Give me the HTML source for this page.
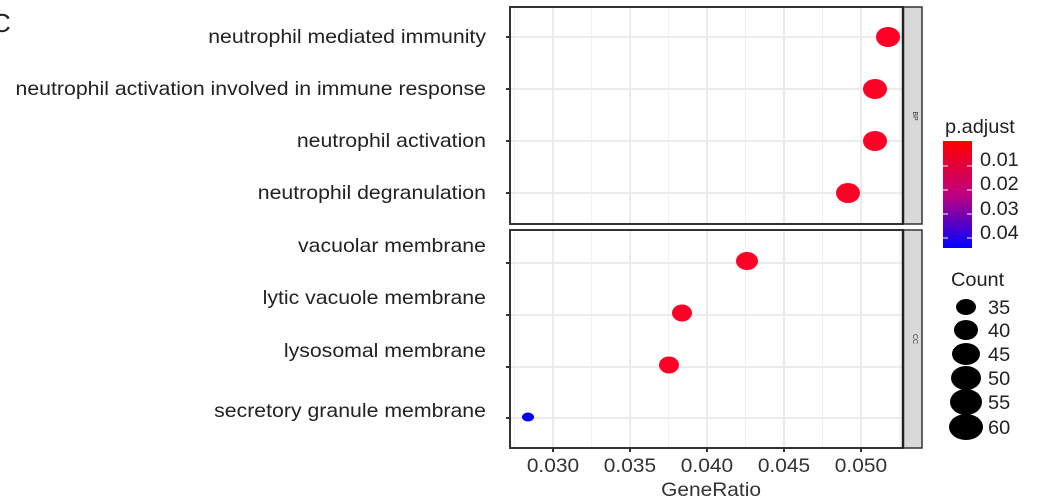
<!DOCTYPE html>
<html><head><meta charset="utf-8"><style>body{margin:0;background:#fff}svg{display:block}</style></head>
<body>
<svg width="1059" height="504" xmlns="http://www.w3.org/2000/svg" font-family="Liberation Sans, Arial, sans-serif">
<defs><linearGradient id="g" x1="0" y1="0" x2="0" y2="1"><stop offset="0" stop-color="#ff0000"/><stop offset="0.5" stop-color="#c0007f"/><stop offset="1" stop-color="#0000ff"/></linearGradient></defs>
<text x="-8" y="32" font-size="26" fill="#222">C</text>
<g font-size="19" fill="#222" text-anchor="end" transform="scale(1.12,1)">
<text x="433.9" y="43">neutrophil mediated immunity</text>
<text x="433.9" y="95">neutrophil activation involved in immune response</text>
<text x="433.9" y="147">neutrophil activation</text>
<text x="433.9" y="199">neutrophil degranulation</text>
<text x="433.9" y="252">vacuolar membrane</text>
<text x="433.9" y="304">lytic vacuole membrane</text>
<text x="433.9" y="357">lysosomal membrane</text>
<text x="433.9" y="417">secretory granule membrane</text>
</g>
<g>
<rect x="510" y="7" width="393" height="217" fill="#fff"/>
<rect x="510" y="230" width="393" height="218" fill="#fff"/>
<g stroke="#f1f1f1" stroke-width="1">
<line x1="514.5" y1="7" x2="514.5" y2="224"/><line x1="591.5" y1="7" x2="591.5" y2="224"/><line x1="668.5" y1="7" x2="668.5" y2="224"/><line x1="745.5" y1="7" x2="745.5" y2="224"/><line x1="822.5" y1="7" x2="822.5" y2="224"/><line x1="899.5" y1="7" x2="899.5" y2="224"/>
<line x1="514.5" y1="230" x2="514.5" y2="448"/><line x1="591.5" y1="230" x2="591.5" y2="448"/><line x1="668.5" y1="230" x2="668.5" y2="448"/><line x1="745.5" y1="230" x2="745.5" y2="448"/><line x1="822.5" y1="230" x2="822.5" y2="448"/><line x1="899.5" y1="230" x2="899.5" y2="448"/>
</g>
<g stroke="#ebebeb" stroke-width="2">
<line x1="553" y1="7" x2="553" y2="224"/><line x1="630" y1="7" x2="630" y2="224"/><line x1="707" y1="7" x2="707" y2="224"/><line x1="784" y1="7" x2="784" y2="224"/><line x1="861" y1="7" x2="861" y2="224"/>
<line x1="553" y1="230" x2="553" y2="448"/><line x1="630" y1="230" x2="630" y2="448"/><line x1="707" y1="230" x2="707" y2="448"/><line x1="784" y1="230" x2="784" y2="448"/><line x1="861" y1="230" x2="861" y2="448"/>
<line x1="510" y1="37" x2="903" y2="37"/><line x1="510" y1="89" x2="903" y2="89"/><line x1="510" y1="141" x2="903" y2="141"/><line x1="510" y1="193" x2="903" y2="193"/>
<line x1="510" y1="263" x2="903" y2="263"/><line x1="510" y1="315" x2="903" y2="315"/><line x1="510" y1="367" x2="903" y2="367"/><line x1="510" y1="418" x2="903" y2="418"/>
</g>
<g stroke="#333" stroke-width="2">
<line x1="506" y1="37" x2="510" y2="37"/><line x1="506" y1="89" x2="510" y2="89"/><line x1="506" y1="141" x2="510" y2="141"/><line x1="506" y1="193" x2="510" y2="193"/>
<line x1="506" y1="263" x2="510" y2="263"/><line x1="506" y1="315" x2="510" y2="315"/><line x1="506" y1="367" x2="510" y2="367"/><line x1="506" y1="418" x2="510" y2="418"/>
<line x1="553" y1="448" x2="553" y2="452"/><line x1="630" y1="448" x2="630" y2="452"/><line x1="707" y1="448" x2="707" y2="452"/><line x1="784" y1="448" x2="784" y2="452"/><line x1="861" y1="448" x2="861" y2="452"/>
</g>
<g fill="#ff0026">
<ellipse cx="888" cy="37" rx="12" ry="10"/>
<ellipse cx="875" cy="89" rx="12" ry="10"/>
<ellipse cx="875" cy="141" rx="12" ry="10"/>
<ellipse cx="848" cy="193" rx="12" ry="10"/>
<ellipse cx="747" cy="261" rx="11" ry="9"/>
<ellipse cx="682" cy="313" rx="10" ry="8.5"/>
<ellipse cx="669" cy="365" rx="10" ry="8.5"/>
</g>
<ellipse cx="528" cy="417" rx="6" ry="4.5" fill="#0000ff"/>
<g fill="none" stroke="#333" stroke-width="2">
<rect x="510" y="7" width="393" height="217"/>
<rect x="510" y="230" width="393" height="218"/>
</g>
<rect x="903" y="7" width="19" height="217" fill="#d9d9d9" stroke="#333" stroke-width="1.5"/>
<rect x="903" y="230" width="19" height="218" fill="#d9d9d9" stroke="#333" stroke-width="1.5"/>
<line x1="903" y1="7" x2="903" y2="224" stroke="#222" stroke-width="2.5"/>
<line x1="903" y1="230" x2="903" y2="448" stroke="#222" stroke-width="2.5"/>
<text x="913" y="116" font-size="7" fill="#333" text-anchor="middle" transform="rotate(90 913 116)">BP</text>
<text x="913" y="339" font-size="7" fill="#333" text-anchor="middle" transform="rotate(90 913 339)">CC</text>
</g>
<g font-size="19" fill="#333" text-anchor="middle" transform="scale(1.1,1)">
<text x="502.7" y="472">0.030</text><text x="572.7" y="472">0.035</text><text x="642.7" y="472">0.040</text><text x="712.7" y="472">0.045</text><text x="782.7" y="472">0.050</text>
<text x="646.4" y="496">GeneRatio</text>
</g>
<g font-size="19" fill="#222" transform="scale(1.05,1)">
<text x="900" y="133">p.adjust</text>
<text x="933.3" y="166">0.01</text><text x="933.3" y="190">0.02</text><text x="933.3" y="215">0.03</text><text x="933.3" y="239">0.04</text>
<text x="905.7" y="286">Count</text>
<text x="941" y="314">35</text><text x="941" y="337">40</text><text x="941" y="361">45</text><text x="941" y="385">50</text><text x="941" y="409">55</text><text x="941" y="434">60</text>
</g>
<rect x="943" y="141" width="29" height="107" fill="url(#g)"/>
<g stroke="#fff" stroke-width="1"><line x1="943" y1="166" x2="948" y2="166"/><line x1="967" y1="166" x2="972" y2="166"/><line x1="943" y1="190" x2="948" y2="190"/><line x1="967" y1="190" x2="972" y2="190"/><line x1="943" y1="214" x2="948" y2="214"/><line x1="967" y1="214" x2="972" y2="214"/><line x1="943" y1="238" x2="948" y2="238"/><line x1="967" y1="238" x2="972" y2="238"/></g>
<g fill="#000">
<ellipse cx="966" cy="307" rx="10" ry="8"/><ellipse cx="966" cy="330" rx="12" ry="10"/><ellipse cx="966" cy="354" rx="14" ry="11"/><ellipse cx="966" cy="378" rx="15" ry="12"/><ellipse cx="966" cy="402" rx="16" ry="13"/><ellipse cx="966" cy="427" rx="17" ry="13"/>
</g>
</svg>
</body></html>
